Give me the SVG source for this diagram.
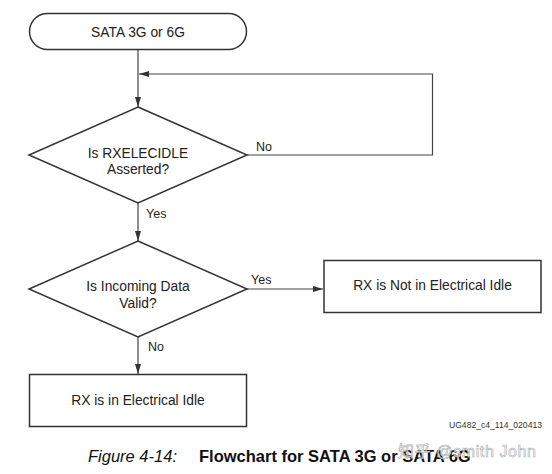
<svg xmlns="http://www.w3.org/2000/svg" width="552" height="474" viewBox="0 0 552 474">
<style>
.shape{fill:#fff;stroke:#333;stroke-width:1.5}
.conn{fill:none;stroke:#444;stroke-width:1.2}
.t{font-family:"Liberation Sans",Arial,sans-serif;font-size:13.8px;fill:#222;text-anchor:middle}
.lbl{font-family:"Liberation Sans",Arial,sans-serif;font-size:12.5px;fill:#222}
</style>
<defs>
<marker id="arr" viewBox="0 0 10 6" refX="10" refY="3" markerWidth="10" markerHeight="6" markerUnits="userSpaceOnUse" orient="auto">
<path d="M0,0 L10,3 L0,6 Z" fill="#333"/>
</marker>
</defs>
<rect width="552" height="474" fill="#fff"/>
<g id="connectors">
<path class="conn" d="M138,50 V107" marker-end="url(#arr)"/>
<path class="conn" d="M247,155 H432.5 V74 H139" marker-end="url(#arr)"/>
<path class="conn" d="M138,203 V241" marker-end="url(#arr)"/>
<path class="conn" d="M247,289 H323" marker-end="url(#arr)"/>
<path class="conn" d="M138,337 V374" marker-end="url(#arr)"/>
<text class="lbl" x="256" y="151">No</text>
<text class="lbl" x="146" y="218">Yes</text>
<text class="lbl" x="251" y="284">Yes</text>
<text class="lbl" x="148" y="351">No</text>
</g>
<g id="start">
<rect class="shape" x="29.5" y="13.5" width="217" height="36" rx="18" ry="18"/>
<text class="t" x="138" y="37">SATA 3G or 6G</text>
</g>
<g id="decision1">
<polygon class="shape" points="138,107 247,155 138,203 29,155"/>
<text class="t" x="138" y="158">Is RXELECIDLE</text>
<text class="t" x="138" y="174">Asserted?</text>
</g>
<g id="decision2">
<polygon class="shape" points="138,241 247,289 138,337 29,289"/>
<text class="t" x="138" y="291">Is Incoming Data</text>
<text class="t" x="138" y="308">Valid?</text>
</g>
<g id="notidle">
<rect class="shape" x="324" y="260.5" width="217" height="52"/>
<text class="t" x="432.5" y="290">RX is Not in Electrical Idle</text>
</g>
<g id="idle">
<rect class="shape" x="29.5" y="374.5" width="217" height="52"/>
<text class="t" x="138" y="405">RX is in Electrical Idle</text>
</g>
<text x="542" y="427.5" font-family="'Liberation Sans',Arial,sans-serif" font-size="8.6" fill="#333" text-anchor="end">UG482_c4_114_020413</text>
<text x="88" y="462" font-family="'Liberation Sans',Arial,sans-serif" font-size="16.5" font-style="italic" fill="#111">Figure 4-14:</text>
<text x="199" y="462" font-family="'Liberation Sans',Arial,sans-serif" font-size="16.5" font-weight="bold" fill="#111">Flowchart for SATA 3G or SATA 6G</text>
<text x="398" y="457" textLength="138" font-family="'Liberation Sans','Noto Sans CJK SC',sans-serif" font-size="16" fill="#fff" fill-opacity="0.75" stroke="#aaa" stroke-width="0.6">知乎 @smith John</text>
</svg>
